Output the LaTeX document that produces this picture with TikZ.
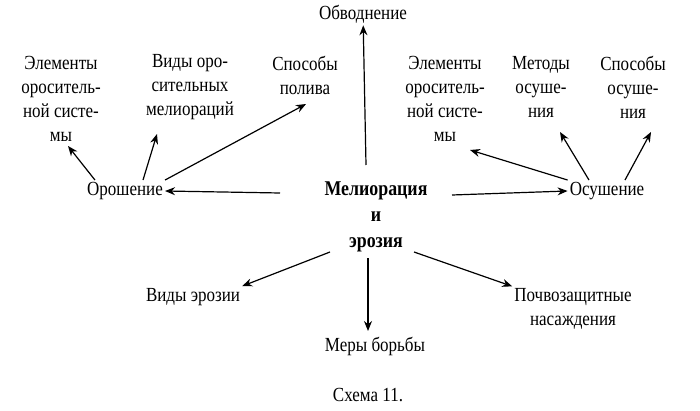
\documentclass[tikz,border=0pt]{standalone}
\usepackage{fontspec}
\setmainfont[FakeStretch=0.85]{Liberation Serif}
\usetikzlibrary{arrows.meta}
\tikzset{lbl/.style={align=center,font=\fontsize{20}{24}\selectfont,inner sep=2pt},
  arr/.style={-{Stealth[length=10pt,width=8pt]},line width=1.2pt}}
\begin{document}
\begin{tikzpicture}[x=1pt,y=-1pt]
  \useasboundingbox (0,0) rectangle (700,411);
  % Centre
  \node[lbl,font=\fontsize{21}{26}\selectfont\bfseries] (mel) at (376,217) {Мелиорация\\и\\эрозия};
  \node[lbl] (obv) at (363,14) {Обводнение};
  \node[lbl] (oro) at (125,191) {Орошение};
  \node[lbl] (osu) at (607,191) {Осушение};
  % Орошение
  \node[lbl] (el1) at (61,99) {Элементы\\ороситель-\\ной систе-\\мы};
  \node[lbl] (vid) at (190,87) {Виды оро-\\сительных\\мелиораций};
  \node[lbl] (spp) at (305,75) {Способы\\полива};
  % Осушение
  \node[lbl] (el2) at (445,99) {Элементы\\ороситель-\\ной систе-\\мы};
  \node[lbl] (met) at (541,87) {Методы\\осуше-\\ния};
  \node[lbl] (spo) at (633,87) {Способы\\осуше-\\ния};
  % Эрозия
  \node[lbl] (vie) at (193,297) {Виды эрозии};
  \node[lbl] (poc) at (573,309) {Почвозащитные\\насаждения};
  \node[lbl] (mer) at (375,346) {Меры борьбы};
  \node[lbl] (sch) at (368,395) {Схема 11.};
  % Стрелки
  \draw[arr] (366,165) -- (obv);
  \draw[arr] (280,193) -- (oro.east);
  \draw[arr] (452,195) -- (osu.west);
  \draw[arr] (oro.north west) ++(10,0) -- (68,146);
  \draw[arr] (oro.north) ++(18,0) -- (157,134);
  \draw[arr] (oro.north east) -- (306,104);
  \draw[arr] (osu.north west) -- (470,150);
  \draw[arr] (osu.north) ++(-18,0) -- (560,132);
  \draw[arr] (osu.north) ++(18,0) -- (651,132);
  \draw[arr] (330,252) -- (vie.north east);
  \draw[arr] (414,252) -- (poc.north west);
  \draw[arr] (368,258) -- (368,331);
\end{tikzpicture}
\end{document}
